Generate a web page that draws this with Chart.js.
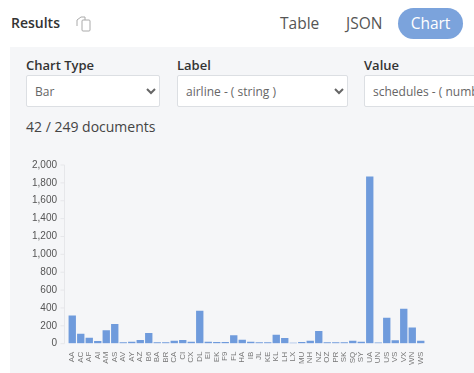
<!DOCTYPE html>
<html>
<head>
<meta charset="utf-8">
<script src="https://cdn.jsdelivr.net/npm/chart.js@4/dist/chart.umd.min.js"></script>
<style>
  html, body { margin: 0; width: 474px; height: 373px; overflow: hidden; background: #fff; }
  body { position: relative; font-family: "Open Sans", sans-serif; color: #333; }
  .abs { position: absolute; white-space: nowrap; }
  #panel { left: 10px; top: 47px; width: 464px; height: 326px; background: #f5f6f8; }
  .tab { font-size: 15.5px; color: #555; top: 12px; line-height: 22px; }
  #pill { left: 398px; top: 8px; width: 65px; height: 31px; border-radius: 16px; background: #7ba3dc; color: #fff; font-size: 15.5px; line-height: 31px; text-align: center; }
  .lbl { font-size: 13px; font-weight: 600; top: 56px; line-height: 18px; color: #333; }
  select { position: absolute; top: 75px; height: 32px; box-sizing: border-box; border: 1px solid #dcdfe3; border-radius: 2px; background-color: #fff; font-family: "Open Sans", sans-serif; font-size: 12px; color: #666; padding-left: 4px; }
  #wrap { left: 20px; top: 150px; width: 420px; height: 223px; }
</style>
</head>
<body>
<div class="abs" id="panel"></div>
<div class="abs" style="left:11px;top:13px;font-size:14px;font-weight:600;line-height:20px;color:#333">Results</div>
<svg class="abs" style="left:75px;top:15px" width="18" height="18" viewBox="0 0 18 18" fill="none" stroke="#aaa" stroke-width="1">
  <path d="M2 11V5l4-3h4v3"/><rect x="7" y="5" width="8" height="11" rx="1"/>
</svg>
<div class="abs tab" style="left:280px">Table</div>
<div class="abs tab" style="left:346px">JSON</div>
<div class="abs" id="pill">Chart</div>
<div class="abs lbl" style="left:26px">Chart Type</div>
<div class="abs lbl" style="left:177px">Label</div>
<div class="abs lbl" style="left:364px">Value</div>
<select style="left:26px;width:134px"><option>Bar</option></select>
<select style="left:177px;width:171px"><option>airline - ( string )</option></select>
<select style="left:364px;width:140px"><option>schedules - ( number )</option></select>
<div class="abs" style="left:26px;top:117px;font-size:14px;line-height:20px;color:#444">42 / 249 documents</div>
<div class="abs" id="wrap"><canvas id="myChart" width="420" height="223"></canvas></div>
<script>
const airlines = ['AA','AC','AF','AI','AM','AS','AV','AY','AZ','B6','BA','BR','CA','CI','CX','DL','EI','EK','F9','FL','HA','IB','JL','KE','KL','LH','LX','MU','NH','NZ','OZ','PR','SK','SQ','SY','UA','UN','US','VS','VX','WN','WS'];
const schedules = [316,112,67,30,149,220,15,22,41,119,15,15,33,41,22,368,22,18,18,93,45,22,15,15,100,63,11,18,33,141,15,15,15,33,22,1870,12,290,37,390,182,33];

// y axis line sits a few px left of the first bar, Chart.js can't do that gap itself
const axisGap = {
  id: 'axisGap',
  afterDraw(chart) {
    const { ctx, scales: { x, y } } = chart;
    const ax = x.left - 3.5;
    ctx.save();
    ctx.strokeStyle = '#e6e7ea';
    ctx.lineWidth = 1;
    ctx.beginPath();
    ctx.moveTo(ax, y.top);
    ctx.lineTo(ax, y.bottom);
    y.ticks.forEach(t => {
      const py = y.getPixelForValue(t.value);
      ctx.moveTo(ax - 4, py);
      ctx.lineTo(ax, py);
    });
    ctx.stroke();
    ctx.restore();
  }
};

const ctx = document.getElementById('myChart').getContext('2d');
new Chart(ctx, {
  type: 'bar',
  data: {
    labels: airlines,
    datasets: [{
      label: 'schedules',
      data: schedules,
      backgroundColor: '#6f9bdc',
      barPercentage: 0.96,
      categoryPercentage: 0.9
    }]
  },
  options: {
    responsive: false,
    animation: false,
    layout: { padding: { top: 15, right: 15, left: 0, bottom: 8 } },
    plugins: { legend: { display: false }, tooltip: { enabled: false } },
    scales: {
      x: {
        grid: { display: false },
        border: { display: false },
        ticks: { autoSkip: false, minRotation: 90, maxRotation: 90, font: { size: 8 }, color: '#777', padding: 0 }
      },
      y: {
        min: 0,
        max: 2000,
        afterFit: s => { s.width = 48; },
        grid: { drawOnChartArea: false, tickLength: 8, tickColor: 'transparent' },
        border: { display: false },
        ticks: { stepSize: 200, font: { size: 10 }, color: '#555', padding: 3 }
      }
    }
  },
  plugins: [axisGap]
});
</script>
</body>
</html>
